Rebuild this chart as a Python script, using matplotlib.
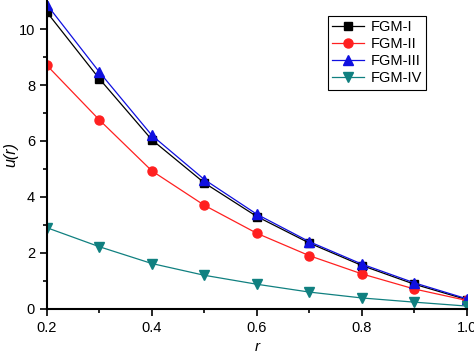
import matplotlib.pyplot as plt
import numpy as np

plt.rcParams['font.family'] = ['Liberation Sans', 'DejaVu Sans']

r = [0.2, 0.3, 0.4, 0.5, 0.6, 0.7, 0.8, 0.9, 1.0]
fgm1 = [10.6, 8.22, 6.04, 4.5, 3.3, 2.35, 1.55, 0.88, 0.33]
fgm2 = [8.7, 6.75, 4.93, 3.7, 2.7, 1.9, 1.25, 0.71, 0.3]
fgm3 = [10.87, 8.46, 6.2, 4.62, 3.38, 2.4, 1.6, 0.93, 0.36]
fgm4 = [2.9, 2.22, 1.62, 1.2, 0.88, 0.6, 0.39, 0.24, 0.1]

fig = plt.figure(figsize=(4.74, 3.53), dpi=100)
ax = fig.add_axes([0.099, 0.125, 0.886, 0.872])

ax.plot(r, fgm1, color='black', lw=0.9, marker='s', ms=6, label='FGM-I')
ax.plot(r, fgm2, color='#ff2020', lw=0.9, marker='o', ms=6.5, label='FGM-II')
ax.plot(r, fgm3, color='#1010e0', lw=0.9, marker='^', ms=7, label='FGM-III')
ax.plot(r, fgm4, color='#108080', lw=0.9, marker='v', ms=7, label='FGM-IV')

ax.set_xlim(0.2, 1.0)
ax.set_ylim(0, 11)
ax.set_xticks([0.2, 0.4, 0.6, 0.8, 1.0])
ax.set_xticks([0.3, 0.5, 0.7, 0.9], minor=True)
ax.set_yticks([0, 2, 4, 6, 8, 10])
ax.set_yticks([1, 3, 5, 7, 9], minor=True)
ax.tick_params(axis='both', which='major', direction='out', length=5, width=1.2, labelsize=10.5)
ax.tick_params(axis='both', which='minor', direction='out', length=3, width=1.2)
ax.spines['top'].set_visible(False)
ax.spines['right'].set_visible(False)
ax.spines['left'].set_linewidth(1.5)
ax.spines['bottom'].set_linewidth(1.5)

ax.set_xlabel('r', style='italic', fontsize=11, labelpad=4)
ax.set_ylabel('u(r)', style='italic', fontsize=11.5)
ax.yaxis.set_label_coords(-0.068, 0.5)

leg = ax.legend(loc='upper right', bbox_to_anchor=(0.92, 0.975), fontsize=10.5,
                fancybox=False, edgecolor='black', framealpha=1,
                handlelength=2.2, borderpad=0.3, labelspacing=0.2, handletextpad=0.4)
leg.get_frame().set_linewidth(0.8)

fig.savefig('out.png', dpi=100)
